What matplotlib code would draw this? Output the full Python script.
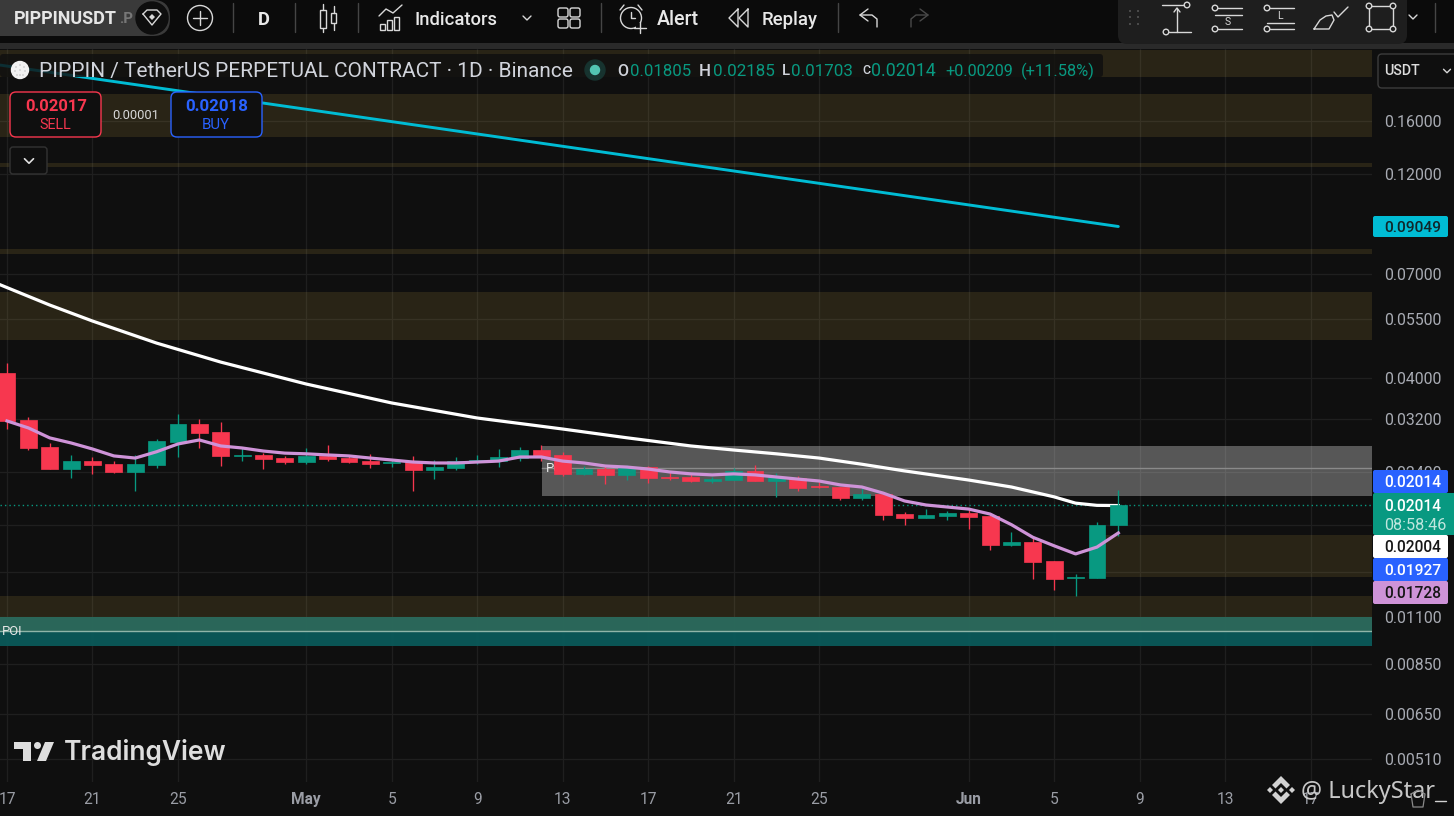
import matplotlib
matplotlib.use("Agg")
import matplotlib.pyplot as plt
from matplotlib.patches import FancyBboxPatch, Circle, Polygon, Rectangle
from matplotlib.ticker import FixedLocator, FixedFormatter, NullLocator

# ---------- data ----------
opens = [.04100,.03181,.02750,.02441,.02548,.02508,.02403,.02495,.02826,.03113,.02982,.0262,.02634,.0259,
         .02535,.0262,.0259,.02548,.0252,.02535,.02428,.02453,.02548,.02548,.0259,.02705,.02634,.02378,
         .02441,.02365,.02467,.02338,.02338,.02288,.0230,.02416,.02288,.02325,.02228,.02215,.02089,.02135,
         .01914,.01871,.01892,.01925,.01892,.0162,.01646,.01485,.01355,.01355,.01805]
highs = [.0432,.03235,.0281,.0264,.0261,.02548,.0264,.0287,.03285,.03198,.03147,.0275,.0266,.0262,
         .02735,.0278,.0262,.0265,.02577,.0262,.02563,.0261,.0264,.0272,.0275,.0278,.0268,.02481,
         .02481,.02495,.02481,.02403,.02378,.02338,.02453,.02495,.0239,.02353,.02276,.02215,.02203,.02135,
         .01935,.01966,.01945,.01956,.01903,.0174,.0168,.01485,.01385,.0183,.02185]
lows = [.0303,.02705,.02441,.02325,.02378,.0239,.02167,.02453,.02605,.02735,.02481,.02548,.02441,.02508,
        .02508,.02548,.0252,.02453,.02467,.02167,.02312,.02428,.02508,.02467,.02548,.02548,.02353,.02365,
        .02252,.0230,.02265,.0230,.02276,.02265,.0230,.02288,.0210,.02167,.02203,.02065,.02065,.01853,
        .01807,.01871,.01853,.01765,.01576,.0161,.01348,.0127,.0123,.01355,.01703]
closes = [.03165,.02735,.02441,.02548,.02495,.02403,.02508,.0284,.03113,.02966,.0262,.02634,.02577,.02535,
          .0262,.02577,.02535,.02508,.02535,.02428,.02467,.02548,.02563,.0261,.02705,.0262,.02378,.02441,
          .02365,.02467,.02325,.02325,.02288,.02312,.02416,.02288,.02338,.02203,.02215,.02089,.02135,.01903,
          .01871,.01903,.01925,.01882,.0162,.01646,.01477,.01348,.01363,.01805,.02014]
ma_fast = [.03165,.03048,.02888,.0281,.0272,.0262,.0259,.0268,.02795,.02856,.02765,.02735,.0269,.0266,
           .0265,.02634,.0262,.0259,.02563,.02535,.02522,.02522,.02535,.02548,.02605,.02605,.02548,.02522,
           .02481,.02467,.02441,.02403,.02378,.02365,.02378,.02365,.02338,.02312,.02288,.0224,.02215,.02143,
           .02054,.0201,.01988,.01966,.01914,.01807,.01688,.01612,.01543,.01601,.01728]
ma_slow_days = [-1,2,4,7,10,14,18,22,26,29,32,34,36,38,40,42,45,47,49,50,51,52]
ma_slow = [.0682,.0592,.0543,.0482,.0435,.03864,.03488,.03216,.0303,.0289,.02765,.02705,.0265,.0259,
           .02505,.02416,.0230,.02215,.0210,.0203,.02006,.02004]
trend_days = [-1,52]
trend = [.2189,.09049]
zones_olive = [(.2029,.2348),(.1468,.1851),(.1248,.1275),(.0780,.0801),(.0490,.0635),(.0110,.0123)]
zone_demand = (.01363,.0171)
zone_grey = (.0211,.02765)
zone_poi_upper = (.01015,.0110)
zone_poi_lower = (.00938,.01015)
last_price = .02014
poi_line_grey = .02453
x_tick_days = [0,4,8,14,18,22,26,30,34,38,45,49,53,57,61]
x_tick_labels = ["17","21","25","May","5","9","13","17","21","25","Jun","5","9","13","17"]
y_tick_values = [.16,.12,.07,.055,.04,.032,.024,.018,.014,.011,.0085,.0065,.0051]
y_tick_labels = ["0.16000","0.12000","0.07000","0.05500","0.04000","0.03200","0.02400","","",
                 "0.01100","0.00850","0.00650","0.00510"]

# ---------- styles ----------
BG = "#0f0f0f"; RED = "#F7374F"; GREEN = "#089981"; BLUE = "#2962FF"; CYAN = "#00BCD4"; PURPLE = "#CE93D8"
FONT = "Roboto"; ICON = "#d8d8d8"; TXT = "#d1d4dc"
plt.rcParams["font.family"] = [FONT, "DejaVu Sans"]

fig = plt.figure(figsize=(14.54, 8.16), dpi=100, facecolor=BG)
W, H = 1454, 816
ax = fig.add_axes([0, (H-782)/H, 1372/W, (782-49)/H], zorder=1, facecolor=BG)
ax.set_yscale("log")
ax.set_xlim(-0.328, 63.87)
ax.set_ylim(.0045, .2361)
for s in ax.spines.values():
    s.set_visible(False)
ax.xaxis.set_major_locator(FixedLocator(x_tick_days))
ax.xaxis.set_major_formatter(FixedFormatter(x_tick_labels))
ax.yaxis.set_major_locator(FixedLocator(y_tick_values))
ax.yaxis.set_major_formatter(FixedFormatter(y_tick_labels))
ax.yaxis.set_minor_locator(NullLocator())
ax.yaxis.tick_right()
ax.tick_params(axis="both", length=0, colors="#a8abb3", labelsize=11.4)
ax.tick_params(axis="y", pad=8.5)
ax.tick_params(axis="x", pad=7, labelsize=11.2, colors="#9a9da5")
for lb, t in zip(ax.get_xticklabels(), x_tick_labels):
    if t in ("May", "Jun"):
        lb.set_fontweight("bold")
ax.grid(True, color="#1f1f1f", lw=0.9)
ax.set_axisbelow(True)

xmax = ax.get_xlim()[1]
xmin = ax.get_xlim()[0]
for lo, hi in zones_olive:
    ax.axhspan(lo, hi, color="#d9b44a", alpha=.13, lw=0, zorder=1)
ax.fill_between([50.7, xmax], zone_demand[0], zone_demand[1], color="#d9b44a", alpha=.13, lw=0, zorder=1)
ax.axhspan(*zone_poi_upper, color="#2b6a5c", lw=0, alpha=.97, zorder=1)
ax.axhspan(*zone_poi_lower, color="#0a5a5a", lw=0, alpha=.95, zorder=1)
ax.axhline(zone_poi_upper[0], color="#8fb5a8", lw=1, zorder=1.2)
ax.fill_between([25.05, xmax], zone_grey[0], zone_grey[1], color="white", alpha=.3, lw=0, zorder=1)
ax.plot([25.05, xmax], [poi_line_grey]*2, color="#8a8a8a", lw=1, zorder=1.2)
ax.axhline(last_price, color=GREEN, lw=1, ls=(0, (1, 2.2)), zorder=1.5)

ax.plot(trend_days, trend, color=CYAN, lw=2.1, zorder=2, solid_capstyle="round")
ax.plot(ma_slow_days, ma_slow, color="white", lw=2.3, zorder=2)

days = list(range(len(opens)))
cols = [GREEN if c >= o else RED for o, c in zip(opens, closes)]
ax.vlines(days, lows, highs, colors=cols, lw=0.95, zorder=3)
ax.bar(days, [abs(c-o) for o, c in zip(opens, closes)], bottom=[min(o, c) for o, c in zip(opens, closes)],
       width=.79, color=cols, edgecolor=cols, lw=.5, zorder=3.2)
ax.plot(days, ma_fast, color=PURPLE, lw=2.3, zorder=3.5)

ax.text(xmin+.09, zone_poi_upper[0], "POI", color="#e8e8e8", fontsize=9.4, va="center", ha="left", zorder=4)
ax.text(25.2, poi_line_grey, "Po", color="#eeeeee", fontsize=9.4, va="center", ha="left", zorder=2.5)

# ---------- interface overlay (pixel coordinates) ----------
ui = fig.add_axes([0, 0, 1, 1], zorder=2, facecolor="none")
ui.set_xlim(0, W); ui.set_ylim(H, 0); ui.axis("off")
rend = fig.canvas.get_renderer()

def fit(s, x0, x1, yc, color=TXT, weight="normal", size=11, family=FONT, alpha=1, z=6):
    t = ui.text(x0, yc, s, color=color, fontweight=weight, fontsize=size, family=family,
                ha="left", va="baseline", alpha=alpha, zorder=z)
    w = t.get_window_extent(rend).width
    fs = size * (x1-x0) / w
    t.set_fontsize(fs)
    t.set_y(yc + 0.355 * fs * 100 / 72)
    return t

def box(x0, y0, x1, y1, fc, ec="none", r=4, lw=1, z=5, alpha=1):
    ui.add_patch(FancyBboxPatch((x0+r, y0+r), x1-x0-2*r, y1-y0-2*r, boxstyle=f"round,pad={r},rounding_size={r}",
                                fc=fc, ec=ec, lw=lw, zorder=z, alpha=alpha))

def ln(xs, ys, c=ICON, lw=1.0, z=7):
    ui.plot(xs, ys, color=c, lw=lw, zorder=z, solid_capstyle="round", solid_joinstyle="round")

def ring(x, y, r, c=ICON, lw=1.0, fc="none", z=7):
    ui.add_patch(Circle((x, y), r, fc=fc, ec=c, lw=lw, zorder=z))

def chevron(x, y, s=4, c=ICON, lw=1.0):
    ln([x-s, x, x+s], [y-s/2, y+s/2, y-s/2], c=c, lw=lw)

# toolbar
ui.add_patch(Rectangle((0, 0), W, 43, fc="#0b0b0b", ec="none", zorder=4))
ui.add_patch(Rectangle((0, 43), W, 6, fc="#2a2a2a", ec="none", zorder=4))
box(-20, 0, 170, 36, "#3a3a3a", r=17, z=5)
fit("PIPPINUSDT", 14, 118, 18, "#e6e6e6", "bold")
fit(".P", 119, 133, 18, "#777777", "bold")
ring(152, 18, 16, c="#0e0e0e", fc="#0e0e0e", z=6)
ln([143, 147, 157, 161, 152, 143], [14, 10, 10, 14, 25, 14], lw=1.0)
ui.add_patch(Polygon([(152, 14), (155, 17), (152, 20), (149, 17)], fc=ICON, ec="none", zorder=7))
ring(200, 18, 12.5)
ln([193, 207], [18, 18]); ln([200, 200], [11, 25])
for sx in (233, 295, 358, 601, 838):
    ln([sx, sx], [3, 32], c="#454545", lw=1.0)
fit("D", 258, 270, 18, "#e8e8e8", "bold")
# candle icon
ui.add_patch(Rectangle((320, 10), 6, 18, fc="none", ec=ICON, lw=1, zorder=7))
ln([323, 323], [4, 10]); ln([323, 323], [28, 32])
ui.add_patch(Rectangle((331, 13), 5, 10, fc="none", ec=ICON, lw=1, zorder=7))
ln([333.5, 333.5], [6, 13]); ln([333.5, 333.5], [23, 30])
# indicators icon
for bx, bt in ((380, 24), (387, 20), (394, 17)):
    ui.add_patch(Rectangle((bx, bt), 5, 30-bt, fc="none", ec=ICON, lw=1, zorder=7))
ln([379, 386, 393, 402], [16, 9, 13, 5])
fit("Indicators", 415, 498, 18, "#e8e8e8", "medium")
chevron(527, 18)
for gx in (558, 570):
    for gy in (8, 19):
        ui.add_patch(FancyBboxPatch((gx+2, gy+2), 6, 5, boxstyle="round,pad=2,rounding_size=2", fc="none", ec=ICON, lw=1, zorder=7))
# alert icon
ring(631, 18, 10.5)
ln([631, 631, 635], [12, 18, 18])
ln([620, 624], [10, 5]); ln([642, 638], [10, 5])
ui.add_patch(Rectangle((636, 23), 9, 9, fc="#0b0b0b", ec="none", zorder=7.5))
ln([634, 646], [28, 28], z=8); ln([640, 640], [22, 33], z=8)
fit("Alert", 657, 699, 18, "#e8e8e8", "medium")
for off in (0, 10):
    ln([738+off, 729+off, 738+off, 738+off], [9, 18, 27, 9])
fit("Replay", 762, 818, 18, "#e8e8e8", "medium")
ln([868, 860, 868], [9, 15, 21]); ln([860, 872, 877, 877], [15, 15, 19, 27])
ln([920, 928, 920], [9, 15, 21], c="#4a4a4a"); ln([928, 916, 911, 911], [15, 15, 19, 27], c="#4a4a4a")

# floating drawing panel
box(1118, -12, 1407, 44, "#1e1e1e", r=9, z=5)
for dx in (1130, 1138):
    for dy in (11, 17, 24):
        ui.add_patch(Circle((dx, dy), 1, fc="#555555", ec="none", zorder=7))
ln([1162, 1184], [5, 5]); ring(1187, 5, 2.8)
ln([1169, 1191], [32, 32]); ring(1166, 32, 2.8)
ln([1177, 1177], [9, 32]); ln([1174, 1177, 1180], [12, 8, 12])
ring(1215, 8, 2.8); ln([1218, 1242], [8, 8]); ln([1215, 1242], [14.5, 14.5])
ui.text(1228, 22, "S", color=ICON, fontsize=7.5, ha="center", va="center", zorder=7)
ring(1215, 29, 2.8); ln([1218, 1242], [29, 29])
ring(1267, 8, 2.8); ln([1270, 1294], [8, 8]); ln([1267, 1294], [23, 23])
ui.text(1280, 16, "L", color=ICON, fontsize=7.5, ha="center", va="center", zorder=7)
ring(1267, 29, 2.8); ln([1270, 1294], [29, 29])
ln([1314, 1320, 1326, 1332, 1334, 1329, 1314], [29, 20, 16, 15, 20, 29, 29])
ln([1334, 1338, 1348], [12, 17, 7])
ln([1369, 1393, 1393, 1369, 1369], [6, 6, 29, 29, 6])
for cx, cy in ((1369, 6), (1393, 6), (1393, 29), (1369, 29)):
    ring(cx, cy, 2.8, fc="#1e1e1e", z=8)
chevron(1413, 17)
ln([1435, 1435], [3, 32], c="#454545")

# legend row
box(0, 54, 1103, 77, BG, r=3, z=3, alpha=.82)
ring(20, 70, 8.5, c="#f2f2f2", fc="#f2f2f2")
for ddx, ddy in ((-4, -3), (0, -5), (4, -3), (-5, 1), (5, 1), (-3, 5), (0, 5), (3, 5), (0, 0)):
    ui.add_patch(Circle((20+ddx, 70+ddy), .8, fc="#c4c4c4", ec="none", zorder=8))
fit("PIPPIN / TetherUS PERPETUAL CONTRACT · 1D · Binance", 39, 571, 70, TXT)
ring(595, 70, 10, c="#17332f", fc="#17332f")
ring(595, 70, 4.5, c="#52c4b2", fc="#52c4b2")
for s, a, b in (("O", 617, 628), ("H", 699, 711), ("L", 782, 790), ("C", 862, 870)):
    fit(s, a, b, 70, TXT, "medium")
for s, a, b in (("0.01805", 630, 691), ("0.02185", 713, 775), ("0.01703", 791, 853), ("0.02014", 871, 936),
                ("+0.00209", 945, 1014), ("(+11.58%)", 1021, 1095)):
    fit(s, a, b, 70, GREEN)

# sell / buy
box(10, 92, 101, 137, BG, ec=RED, r=6, lw=1)
fit("0.02017", 25, 87, 105, RED, "bold")
fit("SELL", 39, 71, 124, RED)
fit("0.00001", 112, 159, 114, "#d8d8d8")
box(171, 92, 262, 137, BG, ec=BLUE, r=6, lw=1)
fit("0.02018", 185, 248, 105, BLUE, "bold")
fit("BUY", 202, 230, 124, BLUE)
box(10, 147, 47, 174, BG, ec="#333333", r=3, lw=1)
chevron(29, 161, s=4.5, c="#e0e0e0", lw=1.2)

# price scale header
box(1378, 54, 1470, 88, BG, ec="#3c3c3c", r=4, lw=1)
fit("USDT", 1384, 1420, 70, "#dcdcdc", "medium")
chevron(1447, 71, s=3.5)

# price tags
def tag(y0, y1, fc, s, tc, x1=1448, weight="medium"):
    box(1373, y0, x1, y1, fc, r=2, z=5)
    fit(s, 1384, 1441, (y0+y1)/2, tc, weight)

tag(216, 237, CYAN, "0.09049", "#10262a")
tag(470, 493, BLUE, "0.02014", "white")
box(1373, 493, 1460, 535, GREEN, r=2, z=5)
fit("0.02014", 1384, 1441, 505, "white", "medium")
fit("08:58:46", 1384, 1447, 524, "#bfe6de")
tag(535, 558, "white", "0.02004", "#161616")
tag(558, 581, BLUE, "0.01927", "white")
tag(581, 604, PURPLE, "0.01728", "#161616")

# TradingView watermark
LOGO = "#dedede"
ui.add_patch(Polygon([(14, 742), (31, 742), (31, 761), (23, 761), (23, 749), (14, 749)], fc=LOGO, ec="none", zorder=6))
ui.add_patch(Circle((37.5, 745.5), 3.5, fc=LOGO, ec="none", zorder=6))
ui.add_patch(Polygon([(45, 742), (54, 742), (46, 761), (37, 761)], fc=LOGO, ec="none", zorder=6))
fit("TradingView", 64, 227, 751, LOGO, "semibold", family="Inter")

# user watermark
WM = "#d2d2d2"
for sgn in (-1, 1):
    ui.add_patch(Polygon([(1281, 790+sgn*14), (1290, 790+sgn*5), (1286.5, 790+sgn*1.5), (1281, 790+sgn*7),
                          (1275.5, 790+sgn*1.5), (1272, 790+sgn*5)], fc=WM, ec="none", zorder=6))
for cx, cy, r in ((1270, 790, 3), (1292, 790, 3), (1281, 790, 3)):
    ui.add_patch(Polygon([(cx, cy-r), (cx+r, cy), (cx, cy+r), (cx-r, cy)], fc=WM, ec="none", zorder=6))
fit("@ LuckyStar", 1301, 1435, 790, WM, "light", family="Noto Sans", alpha=.95)
ln([1435, 1446], [801, 801], c=WM)
ln([1411, 1418, 1425, 1423, 1413, 1411], [794, 790, 794, 807, 807, 794], c="#8a8a8a", lw=.9)

fig.savefig("out.png", dpi=100, facecolor=BG)
